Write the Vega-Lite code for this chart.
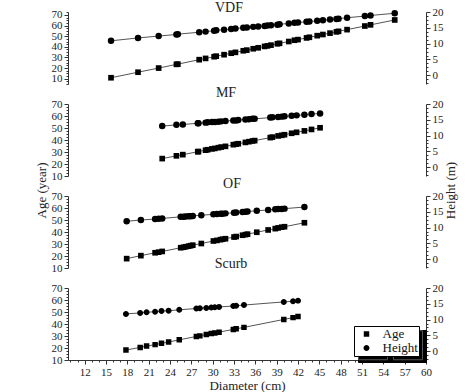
{
  "$schema": "https://vega.github.io/schema/vega-lite/v6.json",
  "padding": {"left": 35, "top": 1, "right": 5, "bottom": 4},
  "background": "white",
  "config": {
    "font": "Liberation Serif",
    "view": {"stroke": null},
    "title": {"font": "Liberation Serif", "fontSize": 14, "fontWeight": "normal", "color": "#222"},
    "axis": {"labelFont": "Liberation Serif", "titleFont": "Liberation Serif", "labelFontSize": 11, "titleFontSize": 13, "titleFontWeight": "normal", "grid": false, "domainColor": "#333", "tickColor": "#333", "labelColor": "#222", "titleColor": "#222", "labelPadding": 2, "labelOverlap": false, "labelFlush": false, "labelBound": false},
    "legend": {"labelFont": "Liberation Serif"}
  },
  "datasets": {
    "vdf": [
      {"d": 15.7, "Age": 10.9, "Height": 10.9},
      {"d": 19.5, "Age": 16.1, "Height": 11.8},
      {"d": 22.4, "Age": 20.0, "Height": 12.4},
      {"d": 24.9, "Age": 23.5, "Height": 12.9},
      {"d": 25.1, "Age": 23.7, "Height": 13.0},
      {"d": 28.1, "Age": 27.9, "Height": 13.6},
      {"d": 29.0, "Age": 29.1, "Height": 13.8},
      {"d": 30.2, "Age": 30.7, "Height": 14.1},
      {"d": 30.5, "Age": 31.2, "Height": 14.2},
      {"d": 31.6, "Age": 32.6, "Height": 14.4},
      {"d": 32.6, "Age": 34.0, "Height": 14.6},
      {"d": 33.2, "Age": 34.8, "Height": 14.8},
      {"d": 34.3, "Age": 36.3, "Height": 15.0},
      {"d": 34.8, "Age": 36.9, "Height": 15.1},
      {"d": 35.7, "Age": 38.2, "Height": 15.3},
      {"d": 36.4, "Age": 39.1, "Height": 15.4},
      {"d": 37.3, "Age": 40.4, "Height": 15.6},
      {"d": 37.7, "Age": 40.9, "Height": 15.7},
      {"d": 38.2, "Age": 41.6, "Height": 15.8},
      {"d": 39.1, "Age": 42.9, "Height": 16.0},
      {"d": 39.4, "Age": 43.3, "Height": 16.1},
      {"d": 40.7, "Age": 45.0, "Height": 16.4},
      {"d": 41.5, "Age": 46.2, "Height": 16.6},
      {"d": 42.0, "Age": 46.8, "Height": 16.7},
      {"d": 43.2, "Age": 48.4, "Height": 16.9},
      {"d": 43.6, "Age": 49.0, "Height": 17.0},
      {"d": 44.7, "Age": 50.5, "Height": 17.2},
      {"d": 45.5, "Age": 51.6, "Height": 17.4},
      {"d": 46.5, "Age": 52.9, "Height": 17.6},
      {"d": 47.4, "Age": 54.1, "Height": 17.8},
      {"d": 47.7, "Age": 54.6, "Height": 17.9},
      {"d": 48.9, "Age": 56.2, "Height": 18.2},
      {"d": 51.4, "Age": 59.6, "Height": 18.7},
      {"d": 52.2, "Age": 60.7, "Height": 18.9},
      {"d": 55.6, "Age": 65.3, "Height": 19.6}
    ],
    "mf": [
      {"d": 22.9, "Age": 24.5, "Height": 13.0},
      {"d": 24.9, "Age": 26.8, "Height": 13.4},
      {"d": 25.8, "Age": 27.8, "Height": 13.5},
      {"d": 27.9, "Age": 30.2, "Height": 13.9},
      {"d": 28.0, "Age": 30.4, "Height": 13.9},
      {"d": 29.0, "Age": 31.5, "Height": 14.1},
      {"d": 29.3, "Age": 31.9, "Height": 14.2},
      {"d": 29.9, "Age": 32.6, "Height": 14.3},
      {"d": 30.3, "Age": 33.0, "Height": 14.3},
      {"d": 30.8, "Age": 33.6, "Height": 14.4},
      {"d": 31.2, "Age": 34.1, "Height": 14.5},
      {"d": 31.8, "Age": 34.7, "Height": 14.6},
      {"d": 32.9, "Age": 36.1, "Height": 14.8},
      {"d": 33.3, "Age": 36.5, "Height": 14.8},
      {"d": 33.6, "Age": 36.9, "Height": 14.9},
      {"d": 34.6, "Age": 38.0, "Height": 15.1},
      {"d": 35.1, "Age": 38.6, "Height": 15.2},
      {"d": 35.6, "Age": 39.2, "Height": 15.3},
      {"d": 35.9, "Age": 39.5, "Height": 15.3},
      {"d": 38.1, "Age": 42.0, "Height": 15.7},
      {"d": 38.4, "Age": 42.4, "Height": 15.8},
      {"d": 39.2, "Age": 43.4, "Height": 15.9},
      {"d": 39.7, "Age": 43.9, "Height": 16.0},
      {"d": 40.1, "Age": 44.4, "Height": 16.1},
      {"d": 41.1, "Age": 45.6, "Height": 16.3},
      {"d": 41.8, "Age": 46.4, "Height": 16.4},
      {"d": 42.9, "Age": 47.6, "Height": 16.6},
      {"d": 43.9, "Age": 48.8, "Height": 16.8},
      {"d": 45.1, "Age": 50.2, "Height": 17.0}
    ],
    "of": [
      {"d": 17.9, "Age": 17.8, "Height": 12.0},
      {"d": 19.9, "Age": 20.3, "Height": 12.4},
      {"d": 21.9, "Age": 22.7, "Height": 12.7},
      {"d": 22.4, "Age": 23.2, "Height": 12.8},
      {"d": 22.9, "Age": 23.8, "Height": 12.9},
      {"d": 25.5, "Age": 26.9, "Height": 13.4},
      {"d": 25.9, "Age": 27.3, "Height": 13.4},
      {"d": 26.2, "Age": 27.7, "Height": 13.5},
      {"d": 26.6, "Age": 28.2, "Height": 13.6},
      {"d": 26.9, "Age": 28.6, "Height": 13.6},
      {"d": 27.2, "Age": 29.0, "Height": 13.7},
      {"d": 28.4, "Age": 30.4, "Height": 13.9},
      {"d": 30.1, "Age": 32.5, "Height": 14.2},
      {"d": 30.6, "Age": 33.0, "Height": 14.3},
      {"d": 31.1, "Age": 33.6, "Height": 14.4},
      {"d": 31.4, "Age": 34.0, "Height": 14.4},
      {"d": 31.8, "Age": 34.4, "Height": 14.5},
      {"d": 33.0, "Age": 35.8, "Height": 14.7},
      {"d": 33.3, "Age": 36.2, "Height": 14.8},
      {"d": 34.2, "Age": 37.3, "Height": 14.9},
      {"d": 34.6, "Age": 37.8, "Height": 15.0},
      {"d": 34.9, "Age": 38.2, "Height": 15.1},
      {"d": 36.2, "Age": 39.8, "Height": 15.3},
      {"d": 37.8, "Age": 41.7, "Height": 15.6},
      {"d": 38.8, "Age": 42.8, "Height": 15.8},
      {"d": 39.2, "Age": 43.4, "Height": 15.9},
      {"d": 39.7, "Age": 44.0, "Height": 15.9},
      {"d": 40.1, "Age": 44.4, "Height": 16.0},
      {"d": 42.9, "Age": 47.7, "Height": 16.5}
    ],
    "scurb": [
      {"d": 17.8, "Age": 18.3, "Height": 11.8},
      {"d": 19.8, "Age": 20.5, "Height": 12.1},
      {"d": 20.7, "Age": 21.6, "Height": 12.3},
      {"d": 21.9, "Age": 22.8, "Height": 12.5},
      {"d": 22.8, "Age": 23.9, "Height": 12.7},
      {"d": 23.8, "Age": 25.0, "Height": 12.8},
      {"d": 25.3, "Age": 26.8, "Height": 13.1},
      {"d": 27.7, "Age": 29.6, "Height": 13.5},
      {"d": 28.2, "Age": 30.1, "Height": 13.6},
      {"d": 29.1, "Age": 31.2, "Height": 13.7},
      {"d": 29.8, "Age": 32.0, "Height": 13.8},
      {"d": 30.3, "Age": 32.5, "Height": 13.9},
      {"d": 30.9, "Age": 33.2, "Height": 14.0},
      {"d": 32.9, "Age": 35.5, "Height": 14.3},
      {"d": 33.3, "Age": 36.0, "Height": 14.4},
      {"d": 34.4, "Age": 37.2, "Height": 14.6},
      {"d": 40.0, "Age": 43.8, "Height": 15.6},
      {"d": 41.3, "Age": 45.3, "Height": 15.8},
      {"d": 42.0, "Age": 46.3, "Height": 16.0}
    ]
  },
  "spacing": 20,
  "bounds": "flush",
  "vconcat": [
    {
      "title": {"text": "VDF", "dx": -18, "offset": -9},
      "width": 358, "height": 72,
      "data": {"name": "vdf"},
      "resolve": {"scale": {"y": "independent"}},
      "layer": [
        {
          "encoding": {
            "x": {"field": "d", "type": "quantitative", "scale": {"domain": [9.65, 60], "nice": false, "zero": false}, "axis": null},
            "y": {"field": "Age", "type": "quantitative", "scale": {"domain": [5, 72.8], "nice": false, "zero": false},
              "axis": {"orient": "left", "title": null, "values": [5, 7.5, 10, 12.5, 15, 17.5, 20, 22.5, 25, 27.5, 30, 32.5, 35, 37.5, 40, 42.5, 45, 47.5, 50, 52.5, 55, 57.5, 60, 62.5, 65, 67.5, 70, 72.5], "labelExpr": "datum.value % 10 === 0 ? datum.label : ''", "tickSize": {"condition": {"test": "datum.value % 10 === 0", "value": 4}, "value": 2}}}
          },
          "layer": [
            {"mark": {"type": "line", "color": "#555", "strokeWidth": 1}},
            {"mark": {"type": "point", "shape": "square", "filled": true, "color": "black", "size": 32, "opacity": 1}}
          ]
        },
        {
          "encoding": {
            "x": {"field": "d", "type": "quantitative", "scale": {"domain": [9.65, 60], "nice": false, "zero": false}, "axis": null},
            "y": {"field": "Height", "type": "quantitative", "scale": {"domain": [-2.75, 20], "nice": false, "zero": false},
              "axis": {"orient": "right", "title": null, "values": [-2.5, -1.25, 0, 1.25, 2.5, 3.75, 5, 6.25, 7.5, 8.75, 10, 11.25, 12.5, 13.75, 15, 16.25, 17.5, 18.75, 20], "labelExpr": "datum.value % 5 === 0 ? datum.label : ''", "tickSize": {"condition": {"test": "datum.value % 5 === 0", "value": 4}, "value": 2}}}
          },
          "layer": [
            {"mark": {"type": "line", "color": "#555", "strokeWidth": 1}},
            {"mark": {"type": "point", "shape": "circle", "filled": true, "color": "black", "size": 42, "opacity": 1}}
          ]
        }
      ]
    },
    {
      "title": {"text": "MF", "dx": -21, "offset": -1.5},
      "width": 358, "height": 72,
      "data": {"name": "mf"},
      "resolve": {"scale": {"y": "independent"}},
      "layer": [
        {
          "encoding": {
            "x": {"field": "d", "type": "quantitative", "scale": {"domain": [9.65, 60], "nice": false, "zero": false}, "axis": null},
            "y": {"field": "Age", "type": "quantitative", "scale": {"domain": [10, 70], "nice": false, "zero": false},
              "axis": {"orient": "left", "title": null, "values": [10, 12.5, 15, 17.5, 20, 22.5, 25, 27.5, 30, 32.5, 35, 37.5, 40, 42.5, 45, 47.5, 50, 52.5, 55, 57.5, 60, 62.5, 65, 67.5, 70], "labelExpr": "datum.value % 10 === 0 ? datum.label : ''", "tickSize": {"condition": {"test": "datum.value % 10 === 0", "value": 4}, "value": 2}}}
          },
          "layer": [
            {"mark": {"type": "line", "color": "#555", "strokeWidth": 1}},
            {"mark": {"type": "point", "shape": "square", "filled": true, "color": "black", "size": 32, "opacity": 1}}
          ]
        },
        {
          "encoding": {
            "x": {"field": "d", "type": "quantitative", "scale": {"domain": [9.65, 60], "nice": false, "zero": false}, "axis": null},
            "y": {"field": "Height", "type": "quantitative", "scale": {"domain": [-2.8, 20], "nice": false, "zero": false},
              "axis": {"orient": "right", "title": null, "values": [-2.5, -1.25, 0, 1.25, 2.5, 3.75, 5, 6.25, 7.5, 8.75, 10, 11.25, 12.5, 13.75, 15, 16.25, 17.5, 18.75, 20], "labelExpr": "datum.value % 5 === 0 ? datum.label : ''", "tickSize": {"condition": {"test": "datum.value % 5 === 0", "value": 4}, "value": 2}}}
          },
          "layer": [
            {"mark": {"type": "line", "color": "#555", "strokeWidth": 1}},
            {"mark": {"type": "point", "shape": "circle", "filled": true, "color": "black", "size": 42, "opacity": 1}}
          ]
        }
      ]
    },
    {
      "title": {"text": "OF", "dx": -15, "offset": -29.5},
      "width": 358, "height": 72,
      "data": {"name": "of"},
      "resolve": {"scale": {"y": "independent"}},
      "layer": [
        {
          "encoding": {
            "x": {"field": "d", "type": "quantitative", "scale": {"domain": [9.65, 60], "nice": false, "zero": false}, "axis": null},
            "y": {"field": "Age", "type": "quantitative", "scale": {"domain": [10, 70], "nice": false, "zero": false},
              "axis": {"orient": "left", "title": "Age (year)", "titleX": -20, "titleY": -6, "titleAngle": 270, "titleBaseline": "bottom", "titleAlign": "center", "values": [10, 12.5, 15, 17.5, 20, 22.5, 25, 27.5, 30, 32.5, 35, 37.5, 40, 42.5, 45, 47.5, 50, 52.5, 55, 57.5, 60, 62.5, 65, 67.5, 70], "labelExpr": "datum.value % 10 === 0 ? datum.label : ''", "tickSize": {"condition": {"test": "datum.value % 10 === 0", "value": 4}, "value": 2}}}
          },
          "layer": [
            {"mark": {"type": "line", "color": "#555", "strokeWidth": 1}},
            {"mark": {"type": "point", "shape": "square", "filled": true, "color": "black", "size": 32, "opacity": 1}}
          ]
        },
        {
          "encoding": {
            "x": {"field": "d", "type": "quantitative", "scale": {"domain": [9.65, 60], "nice": false, "zero": false}, "axis": null},
            "y": {"field": "Height", "type": "quantitative", "scale": {"domain": [-2.8, 20], "nice": false, "zero": false},
              "axis": {"orient": "right", "title": "Height (m)", "titleX": 18, "titleY": -6, "titleAngle": 270, "titleBaseline": "top", "titleAlign": "center", "values": [-2.5, -1.25, 0, 1.25, 2.5, 3.75, 5, 6.25, 7.5, 8.75, 10, 11.25, 12.5, 13.75, 15, 16.25, 17.5, 18.75, 20], "labelExpr": "datum.value % 5 === 0 ? datum.label : ''", "tickSize": {"condition": {"test": "datum.value % 5 === 0", "value": 4}, "value": 2}}}
          },
          "layer": [
            {"mark": {"type": "line", "color": "#555", "strokeWidth": 1}},
            {"mark": {"type": "point", "shape": "circle", "filled": true, "color": "black", "size": 42, "opacity": 1}}
          ]
        }
      ]
    },
    {
      "title": {"text": "Scurb", "dx": -16, "offset": 11.5},
      "width": 358, "height": 72,
      "data": {"name": "scurb"},
      "resolve": {"scale": {"y": "independent"}},
      "encoding": {
        "x": {"field": "d", "type": "quantitative", "scale": {"domain": [9.65, 60], "nice": false, "zero": false},
          "axis": {"title": "Diameter (cm)", "titlePadding": 2, "labelOverlap": false, "values": [10, 11, 12, 13, 14, 15, 16, 17, 18, 19, 20, 21, 22, 23, 24, 25, 26, 27, 28, 29, 30, 31, 32, 33, 34, 35, 36, 37, 38, 39, 40, 41, 42, 43, 44, 45, 46, 47, 48, 49, 50, 51, 52, 53, 54, 55, 56, 57, 58, 59, 60], "labelExpr": "datum.value % 3 === 0 && datum.value >= 12 ? datum.label : ''", "tickSize": {"condition": {"test": "datum.value % 3 === 0", "value": 4}, "value": 2}}}
      },
      "layer": [
        {
          "encoding": {
            "y": {"field": "Age", "type": "quantitative", "scale": {"domain": [10, 70], "nice": false, "zero": false},
              "axis": {"orient": "left", "title": null, "values": [10, 12.5, 15, 17.5, 20, 22.5, 25, 27.5, 30, 32.5, 35, 37.5, 40, 42.5, 45, 47.5, 50, 52.5, 55, 57.5, 60, 62.5, 65, 67.5, 70], "labelExpr": "datum.value % 10 === 0 ? datum.label : ''", "tickSize": {"condition": {"test": "datum.value % 10 === 0", "value": 4}, "value": 2}}}
          },
          "layer": [
            {"mark": {"type": "line", "color": "#555"},
              "encoding": {"strokeWidth": {"datum": "A2", "type": "nominal", "scale": {"domain": ["A2", "H2"], "range": [1, 1]},
                "legend": {"title": null, "orient": "none", "legendX": 290, "legendY": 318, "zindex": 0, "columns": 2, "columnPadding": 0, "padding": 0, "symbolSize": 841, "symbolOffset": 0, "labelOffset": 3, "labelExpr": "''", "strokeColor": "black", "fillColor": "black", "symbolStrokeColor": "black", "symbolFillColor": "black", "symbolType": "square"}}}},
            {"mark": {"type": "point", "filled": true, "color": "black", "size": 169, "opacity": 1},
              "encoding": {"shape": {"datum": "Age", "type": "nominal", "scale": {"domain": ["Age", "Height"], "range": ["M-1.4,0H1.4M-0.42,-0.42H0.42V0.42H-0.42Z", "M-1.4,0H1.4M-0.46,0A0.46,0.46,0,1,1,0.46,0A0.46,0.46,0,1,1,-0.46,0Z"]},
                "legend": {"title": null, "orient": "none", "legendX": 286, "legendY": 314, "zindex": 2, "padding": 1, "symbolSize": 169, "symbolOffset": 4.5, "labelOffset": 9, "rowPadding": 0, "labelFontSize": 13, "labelColor": "#111", "strokeColor": "black", "fillColor": "white", "symbolFillColor": "black", "symbolStrokeColor": "black", "symbolStrokeWidth": 1,
                  "encode": {"symbols": {"stroke": {"value": "#222"}, "strokeWidth": {"value": 1}, "fill": {"value": "black"}}}}}}}
          ]
        },
        {
          "encoding": {
            "y": {"field": "Height", "type": "quantitative", "scale": {"domain": [-2.8, 20], "nice": false, "zero": false},
              "axis": {"orient": "right", "title": null, "values": [-2.5, -1.25, 0, 1.25, 2.5, 3.75, 5, 6.25, 7.5, 8.75, 10, 11.25, 12.5, 13.75, 15, 16.25, 17.5, 18.75, 20], "labelExpr": "datum.value % 5 === 0 ? datum.label : ''", "tickSize": {"condition": {"test": "datum.value % 5 === 0", "value": 4}, "value": 2}}}
          },
          "layer": [
            {"mark": {"type": "line", "color": "#555"},
              "encoding": {"strokeWidth": {"datum": "H2", "type": "nominal"}}},
            {"mark": {"type": "point", "filled": true, "color": "black", "size": 169, "opacity": 1},
              "encoding": {"shape": {"datum": "Height", "type": "nominal"}}}
          ]
        }
      ]
    }
  ]
}
